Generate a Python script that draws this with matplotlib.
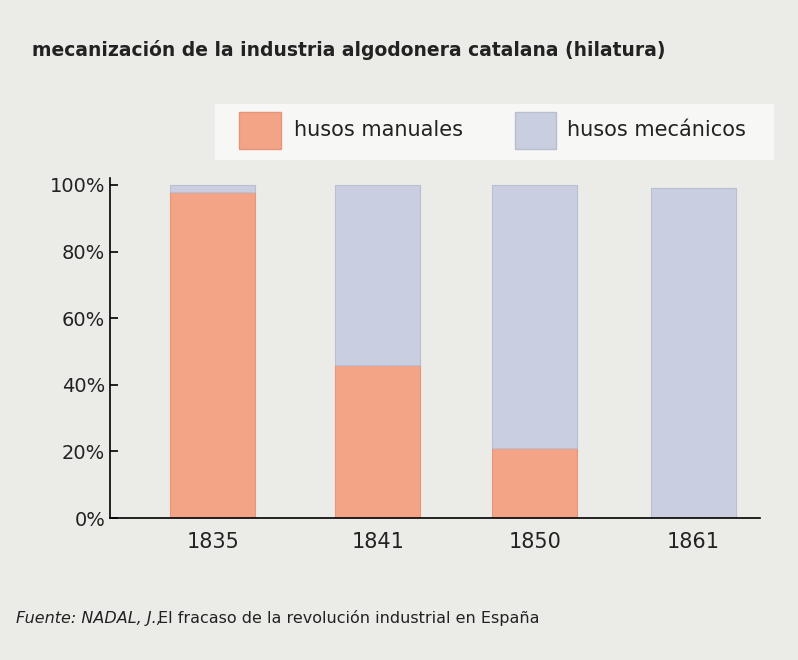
import matplotlib
matplotlib.use("Agg")
import matplotlib.pyplot as plt
from matplotlib.patches import Rectangle

years = ["1835", "1841", "1850", "1861"]
manual = [98, 46, 21, 0]
mecanico = [2, 54, 79, 99]
yticks = [0, 20, 40, 60, 80, 100]

c_man = "#f3a487"
c_mec = "#c9cfe0"
bg = "#ebebe8"

fig = plt.figure(figsize=(7.98, 6.6), dpi=100, facecolor=bg)
ax = fig.add_axes([0.138, 0.215, 0.815, 0.515], facecolor=bg)
x = [0, 1.03, 2.01, 3.0]
ax.bar(x, manual, width=0.53, color=c_man, edgecolor="#e89478", linewidth=0.8)
ax.bar(x, mecanico, bottom=manual, width=0.53, color=c_mec, edgecolor="#b8bfd2", linewidth=0.8)
ax.set_xlim(-0.64, 3.42)
ax.set_ylim(0, 102)
ax.set_yticks(yticks)
ax.set_yticklabels([f"{v}%" for v in yticks], fontsize=14, color="#222")
ax.set_xticks(x)
ax.set_xticklabels(years, fontsize=15, color="#222")
for s in ["top", "right"]:
    ax.spines[s].set_visible(False)
ax.spines["left"].set_linewidth(1.2)
ax.spines["bottom"].set_linewidth(1.2)
ax.tick_params(axis="y", length=6, width=1.2, direction="in")
ax.tick_params(axis="x", length=0, pad=10)

fig.text(0.04, 0.925, "mecanización de la industria algodonera catalana (hilatura)",
         fontsize=13.5, fontweight="bold", color="#222", va="center")
fig.patches.append(Rectangle((0.27, 0.757), 0.7, 0.085, transform=fig.transFigure,
                             facecolor="#f7f7f5", edgecolor="none"))
fig.patches.append(Rectangle((0.30, 0.775), 0.052, 0.055, transform=fig.transFigure,
                             facecolor=c_man, edgecolor="#e89478"))
fig.text(0.368, 0.803, "husos manuales", fontsize=15, color="#222", va="center")
fig.patches.append(Rectangle((0.645, 0.775), 0.052, 0.055, transform=fig.transFigure,
                             facecolor=c_mec, edgecolor="#b8bfd2"))
fig.text(0.71, 0.803, "husos mecánicos", fontsize=15, color="#222", va="center")

fig.text(0.02, 0.063, "Fuente: NADAL, J.,", fontsize=11.5, style="italic", color="#222", va="center")
fig.text(0.198, 0.063, "El fracaso de la revolución industrial en España",
         fontsize=11.5, color="#222", va="center")

fig.savefig("out.png", dpi=100, facecolor=bg)
